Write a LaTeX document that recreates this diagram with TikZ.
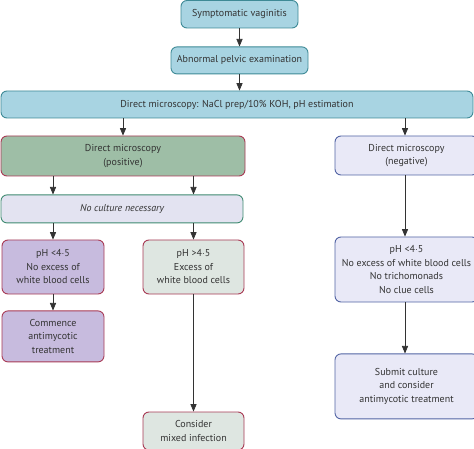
\documentclass[tikz,border=0pt]{standalone}
\usepackage{fontspec}
\setmainfont{PT Sans}
\usetikzlibrary{shapes,arrows,positioning}
\usetikzlibrary{calc}

\definecolor{bluefill}{RGB}{168,212,226}
\definecolor{blueline}{RGB}{62,138,150}
\definecolor{posfill}{RGB}{158,190,166}
\definecolor{redline}{RGB}{168,58,84}
\definecolor{lilacfill}{RGB}{227,227,241}
\definecolor{greenline}{RGB}{62,138,112}
\definecolor{purplefill}{RGB}{199,187,222}
\definecolor{greyfill}{RGB}{222,230,225}
\definecolor{negfill}{RGB}{233,233,247}
\definecolor{negline}{RGB}{82,100,164}

\begin{document}
\begin{tikzpicture}[x=1pt, y=1pt, font=\fontsize{10}{13.5}\selectfont, box/.style={
% The shape:
rectangle, rounded corners=6pt,
% The text:
align=center, text=black!80, inner sep=2pt,
% The border:
line width=0.9pt
}, arr/.style={draw=black!80, line width=0.7pt, -triangle 45}]

	\useasboundingbox (0,0) rectangle (474,-449);

	\node (SV) [box, fill=bluefill, draw=blueline, minimum width=117pt, minimum height=27.5pt] at (239.5,-14.25) {Symptomatic vaginitis};
	\node (APE) [box, fill=bluefill, draw=blueline, minimum width=137pt, minimum height=27pt, below=18pt of SV] {Abnormal pelvic examination};
	\node (DM) [box, fill=bluefill, draw=blueline, minimum width=472pt, minimum height=27pt] at (237,-104.5) {Direct microscopy: NaCl prep/10\% KOH, pH estimation};

	\node (DMP) [box, fill=posfill, draw=redline, minimum width=244pt, minimum height=40pt] at (123,-156) {Direct microscopy\\(positive)};
	\node (NCN) [box, fill=lilacfill, draw=greenline, minimum width=242pt, minimum height=28pt, below=18pt of DMP.south west, anchor=north west] {\itshape No culture necessary};

	\node (LPH) [box, fill=purplefill, draw=redline, minimum width=102pt, minimum height=54pt] at (53,-267) {pH \textless4$\cdot$5\\No excess of\\white blood cells};
	\node (CAT) [box, fill=purplefill, draw=redline, minimum width=102pt, minimum height=51pt, below=16pt of LPH] {Commence\\antimycotic\\treatment};

	\node (HPH) [box, fill=greyfill, draw=redline, minimum width=101pt, minimum height=54pt] at (193.5,-267) {pH \textgreater4$\cdot$5\\Excess of\\white blood cells};
	\node (CMI) [box, fill=greyfill, draw=redline, minimum width=101pt, minimum height=38pt] at (193.5,-431) {Consider\\mixed infection};

	\node (DMN) [box, fill=negfill, draw=negline, minimum width=143pt, minimum height=39pt] at (406.5,-155.5) {Direct microscopy\\(negative)};
	\node (NPH) [box, fill=negfill, draw=negline, minimum width=143pt, minimum height=65pt] at (406.5,-269.5) {pH \textless4$\cdot$5\\No excess of white blood cells\\No trichomonads\\No clue cells};
	\node (SCT) [box, fill=negfill, draw=negline, minimum width=143pt, minimum height=65pt, below=51pt of NPH] {Submit culture\\and consider\\antimycotic treatment};

	% connectors
	\draw[arr] (SV) -- (APE);
	\draw[arr] (APE) -- (APE |- DM.north);
	\draw[arr] (DM.south -| DMP) -- (DMP);
	\draw[arr] (DM.south -| 405,0) -- (DMN.north -| 405,0);
	\draw[arr] (DMP.south -| LPH) -- (NCN.north -| LPH);
	\draw[arr] (DMP.south -| HPH) -- (NCN.north -| HPH);
	\draw[arr] (NCN.south -| LPH) -- (LPH);
	\draw[arr] (NCN.south -| HPH) -- (HPH);
	\draw[arr] (LPH) -- (CAT);
	\draw[arr] (HPH) -- (CMI);
	\draw[arr] (DMN.south -| 405,0) -- (NPH.north -| 405,0);
	\draw[arr] (NPH.south -| 405,0) -- (SCT.north -| 405,0);
\end{tikzpicture}
\end{document}
